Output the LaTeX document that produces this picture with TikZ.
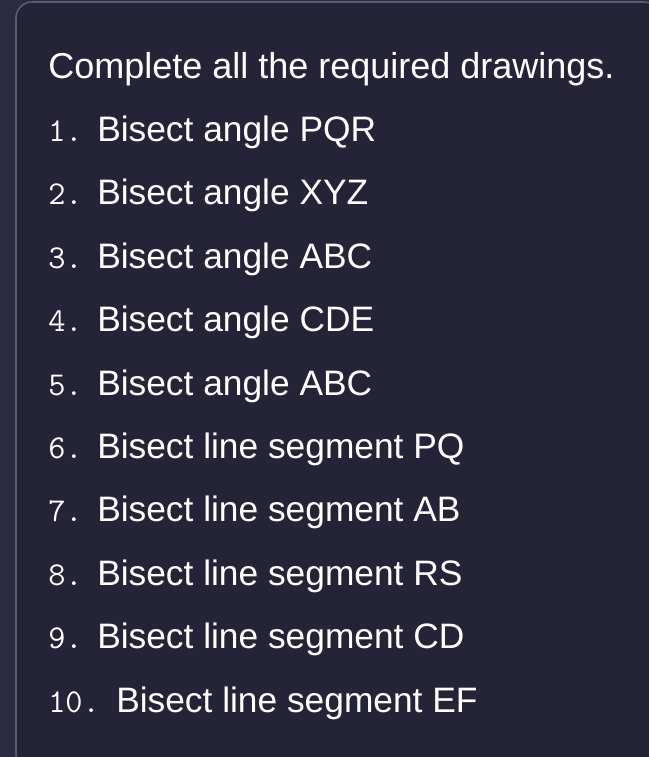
\documentclass[tikz,border=0pt]{standalone}
\usepackage{fontspec}
\setsansfont{Liberation Sans}
\definecolor{outerbg}{HTML}{2C2A40}
\definecolor{panelbg}{HTML}{252338}
\definecolor{panelrim}{HTML}{5C5A72}
\tikzset{
  heading/.style={anchor=base west, text=white, font=\sffamily\fontsize{27}{30}\selectfont, inner sep=0pt},
  itemnum/.style={anchor=base west, text=white, font=\ttfamily\fontsize{25}{30}\selectfont, inner sep=0pt},
  itemtext/.style={anchor=base west, text=white, font=\sffamily\fontsize{26.5}{30}\selectfont, inner sep=0pt}
}
\begin{document}
\begin{tikzpicture}[x=0.75pt,y=-0.75pt]
\useasboundingbox (0,0) rectangle (649,757);
\fill[outerbg] (0,0) rectangle (649,757);
\draw[panelrim, fill=panelbg, line width=1.2pt, rounded corners=12] (16,2) -- (660,2) -- (660,770) -- (16,770) -- cycle;
\node[heading] (title) at (48,78) {Complete all the required drawings.};
%============
\foreach \n/\txt [count=\i] in {1/Bisect angle PQR, 2/Bisect angle XYZ, 3/Bisect angle ABC, 4/Bisect angle CDE, 5/Bisect angle ABC, 6/Bisect line segment PQ, 7/Bisect line segment AB, 8/Bisect line segment RS, 9/Bisect line segment CD}{
  \node[itemnum] (num\n) at (48,{78+63.4*\i}) {\n.};
  \node[itemtext] (item\n) at (97,{78+63.4*\i}) {\txt};
}
\node[itemnum] (num10) at (48,712) {10.};
\node[itemtext] (item10) at (116,712) {Bisect line segment EF};
\end{tikzpicture}
\end{document}
